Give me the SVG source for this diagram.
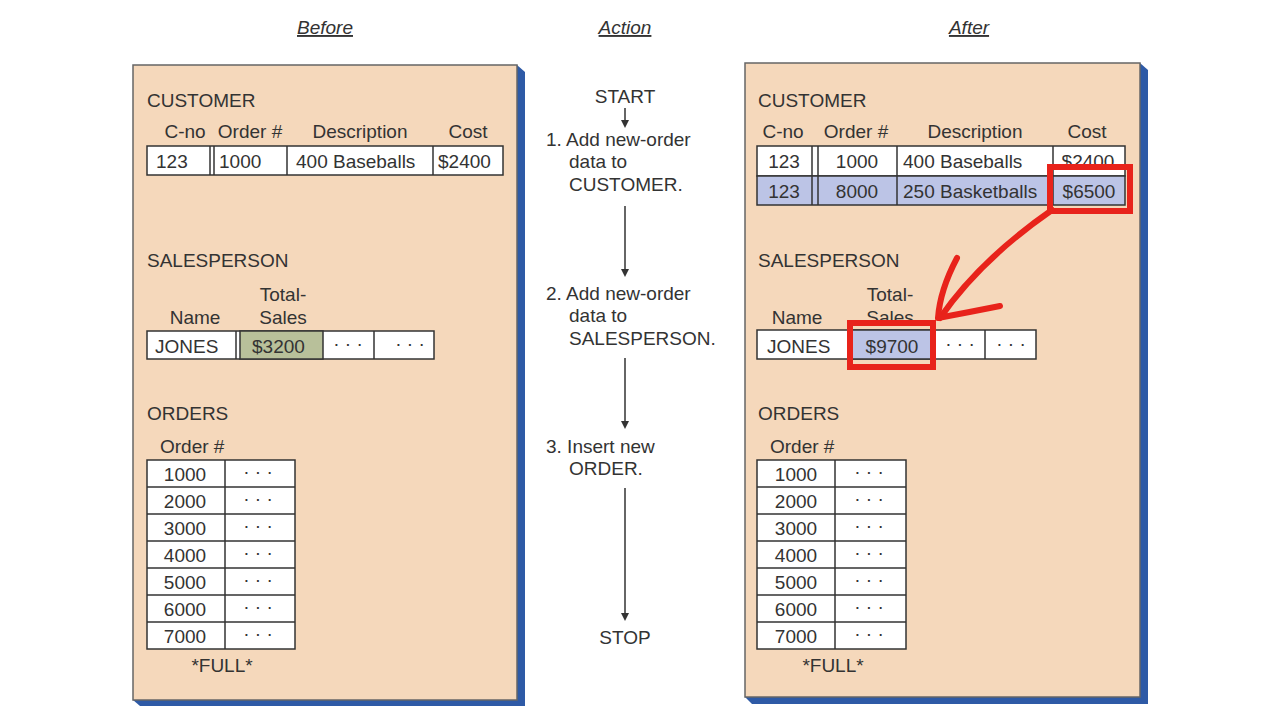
<svg xmlns="http://www.w3.org/2000/svg" width="1280" height="720" viewBox="0 0 1280 720">
<defs>
<style>
text{font-family:"Liberation Sans",Arial,sans-serif;fill:#333;font-size:19px}
.h{font-style:italic;text-decoration:underline;font-size:19px}
.c{text-anchor:middle}
.cell{fill:#fff;stroke:#333;stroke-width:1.5}
.hl{fill:#bcc4e6;stroke:#333;stroke-width:1.5}
.gr{fill:#b8c09a;stroke:#333;stroke-width:1.5}
.red{fill:none;stroke:#e8231b;stroke-width:6}
.ln{stroke:#333;stroke-width:1.5}
</style>
<marker id="ah" markerWidth="8" markerHeight="8" refX="6" refY="4" orient="auto" markerUnits="userSpaceOnUse"><path d="M0,0 L8,4 L0,8 Z" fill="#333"/></marker>
</defs>
<rect width="1280" height="720" fill="#fff"/>
<text class="h c" x="325" y="34">Before</text>
<text class="h c" x="625" y="34">Action</text>
<text class="h c" x="969" y="34">After</text>

<g id="before">
<path d="M517,65 L525,72 L525,706 L140,706 L133,700 Z" fill="#2e5aa6"/>
<rect x="133" y="65" width="384" height="635" fill="#f5d8bb" stroke="#666" stroke-width="1.5"/>
<text x="147" y="107">CUSTOMER</text>
<text class="c" x="185" y="138">C-no</text><text class="c" x="250" y="138">Order #</text><text class="c" x="360" y="138">Description</text><text class="c" x="468" y="138">Cost</text>
<rect class="cell" x="147" y="146" width="356" height="29"/>
<line class="ln" x1="210" y1="146" x2="210" y2="175"/><line class="ln" x1="214" y1="146" x2="214" y2="175"/>
<line class="ln" x1="287" y1="146" x2="287" y2="175"/><line class="ln" x1="433" y1="146" x2="433" y2="175"/>
<text x="156" y="168">123</text><text x="219" y="168">1000</text><text x="296" y="168">400 Baseballs</text><text x="438" y="168">$2400</text>
<text x="147" y="267">SALESPERSON</text>
<text class="c" x="195" y="324">Name</text>
<text class="c" x="283" y="301">Total-</text><text class="c" x="283" y="324">Sales</text>
<rect class="cell" x="147" y="331" width="287" height="28"/>
<rect class="gr" x="240" y="331" width="83" height="28"/>
<line class="ln" x1="236" y1="331" x2="236" y2="359"/>
<line class="ln" x1="374" y1="331" x2="374" y2="359"/>
<text x="155" y="353">JONES</text><text x="252" y="353">$3200</text>
<text class="c" x="348" y="350">· · ·</text><text class="c" x="410" y="350">· · ·</text>
<text x="147" y="420">ORDERS</text>
<text x="160" y="453">Order #</text>
<rect class="cell" x="147" y="460" width="148" height="189"/>
<line class="ln" x1="225" y1="460" x2="225" y2="649"/>
<path class="ln" d="M147,487H295M147,514H295M147,541H295M147,568H295M147,595H295M147,622H295"/>
<g class="c"><text x="185" y="481">1000</text><text x="185" y="508">2000</text><text x="185" y="535">3000</text><text x="185" y="562">4000</text><text x="185" y="589">5000</text><text x="185" y="616">6000</text><text x="185" y="643">7000</text>
<text x="258" y="478">· · ·</text><text x="258" y="505">· · ·</text><text x="258" y="532">· · ·</text><text x="258" y="559">· · ·</text><text x="258" y="586">· · ·</text><text x="258" y="613">· · ·</text><text x="258" y="640">· · ·</text>
<text x="222" y="672">*FULL*</text></g>
</g>

<g id="action">
<text class="c" x="625" y="103">START</text>
<text x="546" y="146">1. Add new-order</text><text x="569" y="168">data to</text><text x="569" y="191">CUSTOMER.</text>
<text x="546" y="300">2. Add new-order</text><text x="569" y="322">data to</text><text x="569" y="345">SALESPERSON.</text>
<text x="546" y="453">3. Insert new</text><text x="569" y="475">ORDER.</text>
<text class="c" x="625" y="644">STOP</text>
</g>
<g id="connectors" class="ln" marker-end="url(#ah)">
<line x1="625" y1="108" x2="625" y2="126"/>
<line x1="625" y1="206" x2="625" y2="275"/>
<line x1="625" y1="358" x2="625" y2="427"/>
<line x1="625" y1="488" x2="625" y2="619"/>
</g>

<g id="after">
<path d="M1140,63 L1148,70 L1148,704 L752,704 L745,697 Z" fill="#2e5aa6"/>
<rect x="745" y="63" width="395" height="634" fill="#f5d8bb" stroke="#666" stroke-width="1.5"/>
<text x="758" y="107">CUSTOMER</text>
<text class="c" x="783" y="138">C-no</text><text class="c" x="856" y="138">Order #</text><text class="c" x="975" y="138">Description</text><text class="c" x="1087" y="138">Cost</text>
<rect class="cell" x="757" y="146" width="368" height="30"/>
<rect class="hl" x="757" y="176" width="368" height="29"/>
<line class="ln" x1="812" y1="146" x2="812" y2="205"/><line class="ln" x1="818" y1="146" x2="818" y2="205"/>
<line class="ln" x1="897" y1="146" x2="897" y2="205"/><line class="ln" x1="1053" y1="146" x2="1053" y2="205"/>
<g class="c"><text x="784" y="168">123</text><text x="857" y="168">1000</text><text x="784" y="198">123</text><text x="857" y="198">8000</text><text x="1088" y="168">$2400</text></g>
<text x="903" y="168">400 Baseballs</text><text x="903" y="198">250 Basketballs</text>
<text class="c" x="1089" y="198">$6500</text>
<text x="758" y="267">SALESPERSON</text>
<text class="c" x="797" y="324">Name</text>
<text class="c" x="890" y="301">Total-</text><text class="c" x="890" y="324">Sales</text>
<rect class="cell" x="757" y="330" width="279" height="29"/>
<rect class="hl" x="852" y="330" width="80" height="29"/>
<line class="ln" x1="935" y1="330" x2="935" y2="359"/><line class="ln" x1="985" y1="330" x2="985" y2="359"/>
<text x="767" y="353">JONES</text><text class="c" x="892" y="353">$9700</text>
<text class="c" x="960" y="350">· · ·</text><text class="c" x="1011" y="350">· · ·</text>
<text x="758" y="420">ORDERS</text>
<text x="770" y="453">Order #</text>
<rect class="cell" x="757" y="460" width="149" height="189"/>
<line class="ln" x1="835" y1="460" x2="835" y2="649"/>
<path class="ln" d="M757,487H906M757,514H906M757,541H906M757,568H906M757,595H906M757,622H906"/>
<g class="c"><text x="796" y="481">1000</text><text x="796" y="508">2000</text><text x="796" y="535">3000</text><text x="796" y="562">4000</text><text x="796" y="589">5000</text><text x="796" y="616">6000</text><text x="796" y="643">7000</text>
<text x="869" y="478">· · ·</text><text x="869" y="505">· · ·</text><text x="869" y="532">· · ·</text><text x="869" y="559">· · ·</text><text x="869" y="586">· · ·</text><text x="869" y="613">· · ·</text><text x="869" y="640">· · ·</text>
<text x="833" y="672">*FULL*</text></g>
</g>

<g id="highlight">
<rect class="red" x="1050" y="167" width="80" height="44"/>
<rect class="red" x="850" y="323" width="83" height="44"/>
<path class="red" d="M1052,210 Q980,260 940,318" stroke-linecap="round"/>
<path class="red" d="M957,258 Q940,290 938,318 Q970,312 1000,306" stroke-linecap="round" stroke-linejoin="round"/>
</g>
</svg>
